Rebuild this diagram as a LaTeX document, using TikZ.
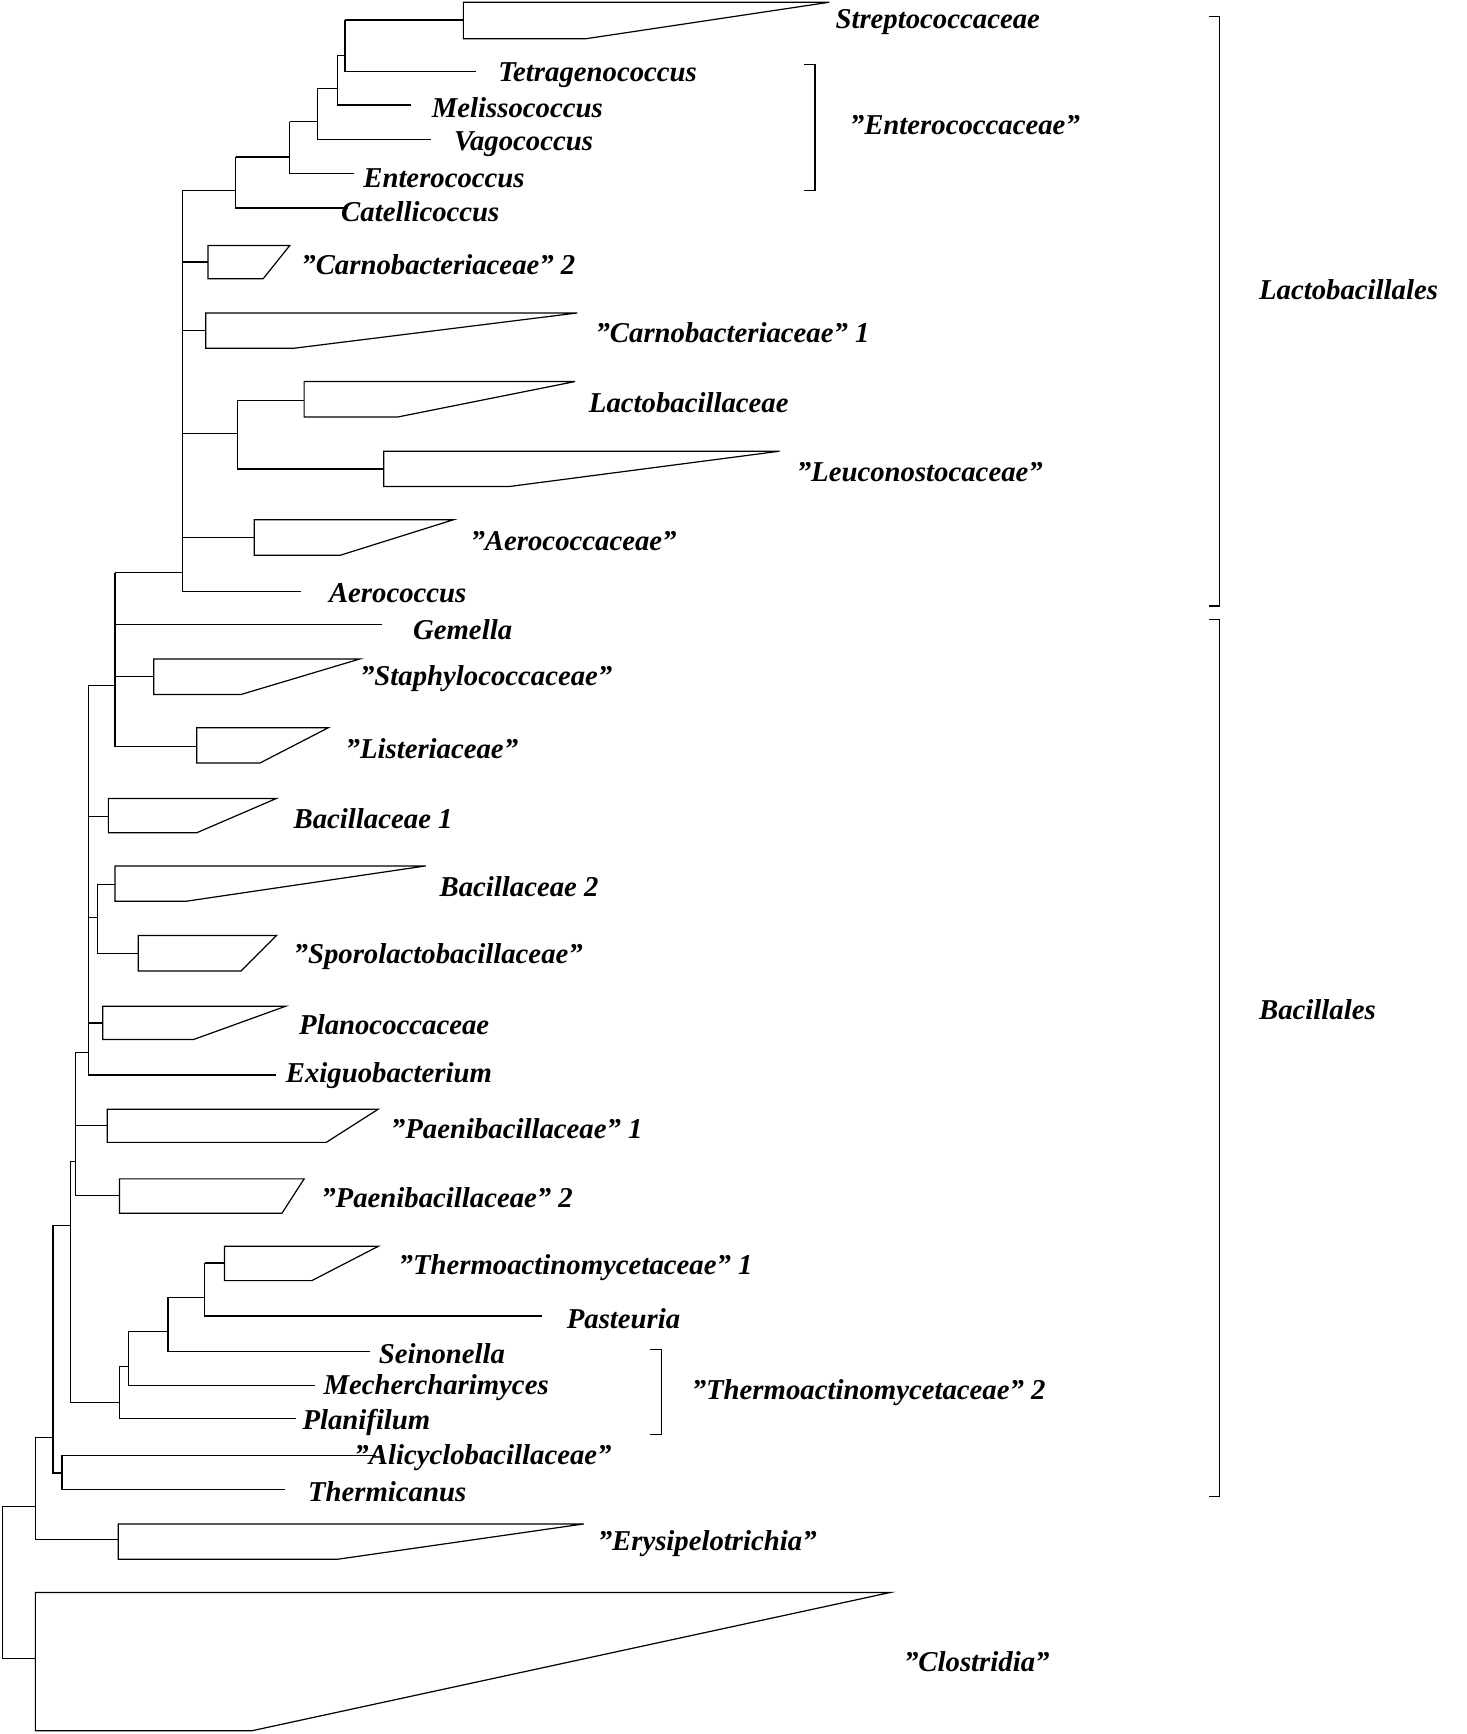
\documentclass[tikz,border=0pt]{standalone}
\usepackage{fontspec}
\setmainfont{Liberation Serif}
\newcommand\clade[5]{\draw (#1,#2)--(#4,#2)--(#5,#3)--(#1,#3)--cycle;}
\newcommand\lab[3]{\node[lbl] at (#1,#2) {#3};}
\begin{document}
\begin{tikzpicture}[x=1pt,y=-1pt,line width=1.1pt,
  lbl/.style={anchor=west,inner sep=0pt,font=\fontsize{26}{28}\selectfont\bfseries\itshape}]
\useasboundingbox (0,0) rectangle (1326,1568);
% root
\draw (32,1362)--(2,1362)--(2,1500)--(32,1500);
\clade{32}{1440}{1565}{805}{228}
\draw (32,1300)--(32,1392)--(107,1392);
\clade{107}{1378}{1410}{528}{305}
\draw (32,1300)--(48,1300);
\draw (48,1108)--(48,1332)--(56,1332);
\draw (56,1316)--(56,1347);
\draw (56,1316)--(340,1316);
\draw (56,1347)--(258,1347);
\draw (48,1108)--(64,1108);
\draw (64,1050)--(64,1268)--(108,1268);
\draw (108,1236)--(108,1283)--(268,1283);
\draw (108,1236)--(116,1236);
\draw (116,1204)--(116,1253)--(285,1253);
\draw (116,1204)--(152,1204);
\draw (152,1173)--(152,1222)--(335,1222);
\draw (152,1173)--(185,1173);
\draw (185,1142)--(185,1190)--(490,1190);
\draw (185,1142)--(203,1142);
\clade{203}{1127}{1158}{342}{282}
\draw (64,1050)--(68,1050);
\draw (68,952)--(68,1081)--(108,1081);
\clade{108}{1066}{1097}{275}{255}
\draw (68,1018)--(97,1018);
\clade{97}{1003}{1033}{342}{295}
\draw (68,952)--(80,952);
\draw (80,620)--(80,972)--(250,972);
\draw (80,925)--(93,925);
\clade{93}{910}{940}{258}{175}
\draw (80,830)--(88,830);
\draw (88,800)--(88,862)--(125,862);
\draw (88,800)--(104,800);
\clade{104}{783}{815}{385}{168}
\clade{125}{846}{878}{250}{218}
\draw (80,738)--(98,738);
\clade{98}{722}{753}{250}{178}
\draw (80,620)--(104,620);
\draw (104,518)--(104,675)--(178,675);
\clade{178}{658}{690}{297}{235}
\draw (104,612)--(139,612);
\clade{139}{596}{628}{325}{218}
\draw (104,565)--(345,565);
\draw (104,518)--(165,518);
\draw (165,172)--(165,535)--(272,535);
\draw (165,486)--(230,486);
\clade{230}{470}{502}{410}{308}
\draw (165,392)--(215,392);
\draw (215,362)--(215,424)--(347,424);
\clade{347}{408}{440}{705}{460}
\draw (215,362)--(275,362);
\clade{275}{345}{377}{520}{360}
\draw (165,299)--(186,299);
\clade{186}{283}{315}{522}{265}
\draw (165,237)--(188,237);
\clade{188}{222}{252}{262}{238}
\draw (165,172)--(213,172);
\draw (213,142)--(213,188)--(315,188);
\draw (213,142)--(262,142);
\draw (262,110)--(262,157)--(320,157);
\draw (262,110)--(287,110);
\draw (287,80)--(287,126)--(390,126);
\draw (287,80)--(305,80);
\draw (305,50)--(305,95)--(372,95);
\draw (305,50)--(312,50);
\draw (312,18)--(312,65)--(430,65);
\draw (312,18)--(419,18);
\clade{419}{2}{35}{750}{530}
% brackets
\draw (727,58)--(737,58)--(737,172)--(727,172);
\draw (1093,15)--(1103,15)--(1103,548)--(1093,548);
\draw (1093,560)--(1103,560)--(1103,1353)--(1093,1353);
\draw (588,1220)--(598,1220)--(598,1297)--(588,1297);
% labels
\lab{755}{20}{Streptococcaceae}
\lab{450}{68}{Tetragenococcus}
\lab{390}{97}{Melissococcus}
\lab{410}{130}{Vagococcus}
\lab{328}{161}{Enterococcus}
\lab{308}{191}{Catellicoccus}
\lab{272}{239}{"Carnobacteriaceae" 2}
\lab{538}{301}{"Carnobacteriaceae" 1}
\lab{532}{364}{Lactobacillaceae}
\lab{720}{427}{"Leuconostocaceae"}
\lab{425}{489}{"Aerococcaceae"}
\lab{297}{536}{Aerococcus}
\lab{373}{569}{Gemella}
\lab{325}{614}{"Staphylococcaceae"}
\lab{312}{677}{"Listeriaceae"}
\lab{265}{740}{Bacillaceae 1}
\lab{397}{802}{Bacillaceae 2}
\lab{265}{865}{"Sporolactobacillaceae"}
\lab{270}{927}{Planococcaceae}
\lab{258}{973}{Exiguobacterium}
\lab{353}{1021}{"Paenibacillaceae" 1}
\lab{290}{1083}{"Paenibacillaceae" 2}
\lab{360}{1146}{"Thermoactinomycetaceae" 1}
\lab{512}{1192}{Pasteuria}
\lab{342}{1224}{Seinonella}
\lab{292}{1255}{Mechercharimyces}
\lab{273}{1286}{Planifilum}
\lab{320}{1318}{"Alicyclobacillaceae"}
\lab{278}{1349}{Thermicanus}
\lab{540}{1396}{"Erysipelotrichia"}
\lab{817}{1503}{"Clostridia"}
\lab{768}{113}{"Enterococcaceae"}
\lab{1138}{262}{Lactobacillales}
\lab{1138}{913}{Bacillales}
\lab{625}{1259}{"Thermoactinomycetaceae" 2}
\end{tikzpicture}
\end{document}
